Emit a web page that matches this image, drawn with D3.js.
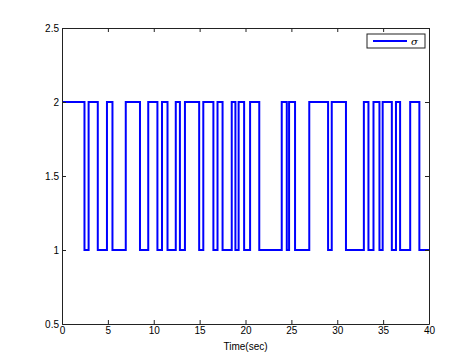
<!DOCTYPE html>
<html>
<head>
<meta charset="utf-8">
<script src="https://cdn.jsdelivr.net/npm/d3@7"></script>
<style>
  body { margin: 0; background: #fff; }
  svg { display: block; }
  text { font-family: "Liberation Sans", Arial, sans-serif; }
</style>
</head>
<body>
<div id="chart"></div>
<script>
// switching times (sec) and the value of sigma from that time on
var timeData = [0, 2.45, 2.9, 3.9, 4.9, 5.5, 6.95, 8.5, 9.4, 10.4, 10.9,
    11.5, 12.4, 12.85, 13.4, 14.95, 15.4, 16.5, 16.95, 17.5, 18.5,
    18.9, 19.25, 19.85, 20.5, 21.5, 23.95, 24.5, 24.75, 25.4, 26.95,
    29.0, 29.4, 30.95, 32.9, 33.4, 33.95, 34.6, 34.95, 35.95, 36.4,
    36.85, 37.95, 38.95, 40];
var sigmaData = [2, 1, 2, 1, 2, 1, 2, 1, 2, 1, 2,
    1, 2, 1, 2, 1, 2, 1, 2, 1, 2,
    1, 2, 1, 2, 1, 2, 1, 2, 1, 2,
    1, 2, 1, 2, 1, 2, 1, 2, 1, 2,
    1, 2, 1, 1];
var xTicks = [0, 5, 10, 15, 20, 25, 30, 35, 40];
var yTicks = [0.5, 1, 1.5, 2, 2.5];

var width = 474, height = 364;
var plotLeft = 62, plotRight = 429, plotTop = 28, plotBottom = 324;

var svg = d3.select("#chart").append("svg")
    .attr("width", width)
    .attr("height", height);

var x = d3.scaleLinear().domain([0, 40]).range([plotLeft, plotRight]);
var y = d3.scaleLinear().domain([0.5, 2.5]).range([plotBottom, plotTop]);

// the signal
var data = timeData.map(function (t, i) { return {t: t, v: sigmaData[i]}; });
var line = d3.line()
    .x(function (d) { return x(d.t); })
    .y(function (d) { return y(d.v); })
    .curve(d3.curveStepAfter);

svg.append("path")
    .datum(data)
    .attr("d", line)
    .attr("fill", "none")
    .attr("stroke", "#0000ff")
    .attr("stroke-width", 2);

// axes, ticks inside like matlab
function styleAxis(g) {
    g.selectAll(".domain").attr("stroke", "#222");
    g.selectAll(".tick line").attr("stroke", "#222");
    g.selectAll("text").style("font-size", "10px").attr("fill", "#000")
        .style("font-family", "'Liberation Sans', Arial, sans-serif");
}

svg.append("g")
    .attr("transform", "translate(0," + plotBottom + ")")
    .call(d3.axisBottom(x).tickValues(xTicks).tickSize(-4).tickPadding(3).tickSizeOuter(0).tickFormat(d3.format("d")))
    .call(styleAxis);

svg.append("g")
    .attr("transform", "translate(0," + plotTop + ")")
    .call(d3.axisTop(x).tickValues(xTicks).tickSize(-4).tickSizeOuter(0).tickFormat(""))
    .call(styleAxis);

svg.append("g")
    .attr("transform", "translate(" + plotLeft + ",0)")
    .call(d3.axisLeft(y).tickValues(yTicks).tickSize(-4).tickPadding(3).tickSizeOuter(0).tickFormat(d3.format("")))
    .call(styleAxis);

svg.append("g")
    .attr("transform", "translate(" + plotRight + ",0)")
    .call(d3.axisRight(y).tickValues(yTicks).tickSize(-4).tickSizeOuter(0).tickFormat(""))
    .call(styleAxis);

svg.append("text")
    .attr("x", (plotLeft + plotRight) / 2)
    .attr("y", 350)
    .attr("text-anchor", "middle")
    .style("font-size", "10px")
    .text("Time(sec)");

// legend
var legend = svg.append("g");
legend.append("rect")
    .attr("x", 367).attr("y", 34)
    .attr("width", 58).attr("height", 14)
    .attr("fill", "#fff")
    .attr("stroke", "#222");
legend.append("line")
    .attr("x1", 373).attr("x2", 407)
    .attr("y1", 41).attr("y2", 41)
    .attr("stroke", "#0000ff")
    .attr("stroke-width", 2);
legend.append("text")
    .attr("x", 411).attr("y", 45)
    .style("font-family", "'DejaVu Serif', serif")
    .style("font-style", "italic")
    .style("font-size", "10px")
    .text("σ");
</script>
</body>
</html>
